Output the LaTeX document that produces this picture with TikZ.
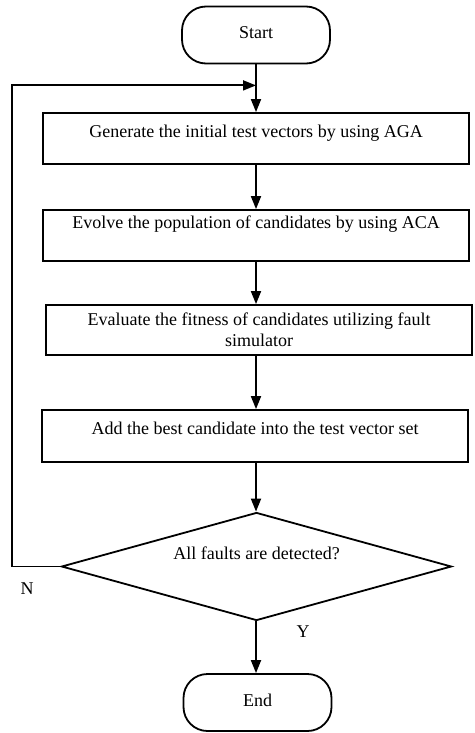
\documentclass[tikz,border=0pt]{standalone}
\usepackage{fontspec}
\setmainfont{Liberation Serif}
\usetikzlibrary{arrows.meta,shapes.geometric}
\begin{document}
\begin{tikzpicture}[x=1pt,y=-1pt, line width=1.8pt,
 every node/.style={font=\fontsize{18}{21}\selectfont},
 term/.style={draw, rounded corners=24pt, minimum width=148pt, minimum height=57pt, inner sep=0},
 stepbox/.style={draw, minimum width=426pt, inner xsep=0, inner ysep=0},
 dec/.style={draw, diamond, aspect=3.6, minimum width=390pt, minimum height=108pt, inner sep=0},
 arr/.style={-{Triangle[length=13pt,width=10pt]}},
 lbl/.style={inner sep=0}]
\useasboundingbox (0,0) rectangle (474,733);
\node[term, text height=10pt, text depth=3pt] (start) at (256,35) {Start};
\node[stepbox, text height=25pt, text depth=26pt] (b1) at (256,138.5) {Generate the initial test vectors by using AGA};
\node[stepbox, text height=18pt, text depth=33pt] (b2) at (256,235.5) {Evolve the population of candidates by using ACA};
\node[stepbox, minimum height=50pt, align=center] (b3) at (259,330) {Evaluate the fitness of candidates utilizing fault\\simulator};
\node[stepbox, text height=24pt, text depth=28pt] (b4) at (255,436) {Add the best candidate into the test vector set};
\node[dec, text height=12pt, text depth=27pt] (d) at (256.5,566.5) {All faults are detected?};
\node[term, text height=10pt, text depth=3pt] (end) at (257.5,702.5) {End};
\node[lbl] (n) at (27,589) {N};
\node[lbl] (y) at (303,632) {Y};
\path (start.south) ++(0,21) coordinate (j);
\draw[arr] (start.south) -- (start.south |- b1.north);
\draw[arr] (start.south |- b1.south) -- (start.south |- b2.north);
\draw[arr] (start.south |- b2.south) -- (start.south |- b3.north);
\draw[arr] (start.south |- b3.south) -- (start.south |- b4.north);
\draw[arr] (start.south |- b4.south) -- (start.south |- d.north);
\draw[arr] (start.south |- d.south) -- (start.south |- end.north);
\draw[arr] (d.west) -- ++(-49,0) |- (j);
\end{tikzpicture}
\end{document}
